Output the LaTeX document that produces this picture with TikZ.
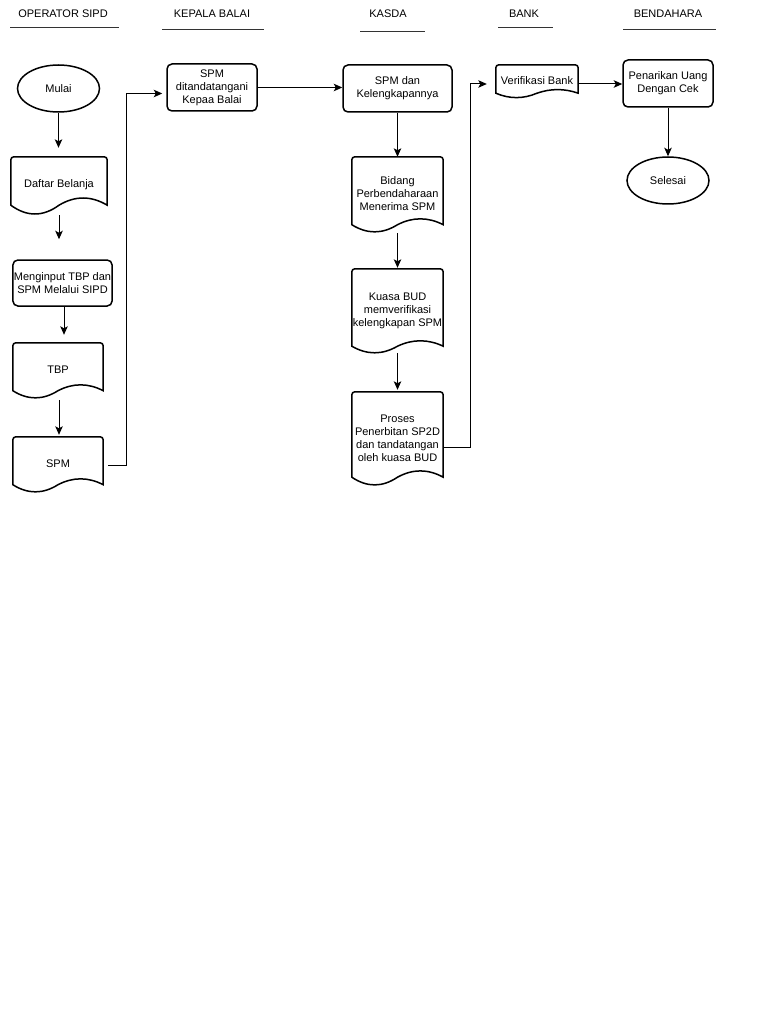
\documentclass[tikz,border=0pt]{standalone}
\usepackage{fontspec}
\setmainfont{Liberation Sans}
\usepackage{tikz}
\usetikzlibrary{positioning,shapes.geometric,arrows.meta,calc}
\tikzset{>={Stealth[length=8.5pt,width=7.5pt,inset=2pt]},
  every node/.style={font=\fontsize{11}{13}\selectfont, align=center, inner sep=1pt},
  lane/.style={draw=black!80, line width=0.9pt},
  box/.style={draw, line width=1.5pt, rounded corners=5pt},
  oval/.style={draw, ellipse, line width=1.5pt},
  doc/.style={inner sep=0pt},
  shapeline/.style={line width=1.5pt},
  flow/.style={->, line width=1pt}}
\newcommand{\docshape}[2]{%
  \draw[shapeline] let \p1=(#1.south west), \p2=(#1.north east), \n1={\x2-\x1} in
    (\x2,{\y1+0.5*#2}) [rounded corners=3pt] -- (\x2,\y2) -- (\x1,\y2) [sharp corners] -- (\x1,{\y1+0.5*#2})
    .. controls ({\x1+\n1/6},{\y1-0.2333*#2}) and ({\x1+\n1/3},{\y1-0.2333*#2}) .. ({\x1+0.5*\n1},{\y1+0.5*#2})
    .. controls ({\x1+2*\n1/3},{\y1+1.1*#2}) and ({\x2-\n1/6},{\y1+1.1*#2}) .. (\x2,{\y1+0.5*#2}) -- cycle;}

\begin{document}
\begin{tikzpicture}[x=1pt, y=-1pt]
  \useasboundingbox (0,0) rectangle (768,1024);

  \node (hoperator) at (63,14) {OPERATOR SIPD};
  \node (hkepala) at (212,14) {KEPALA BALAI};
  \node (hkasda) at (388,14) {KASDA};
  \node (hbank) at (524,14) {BANK};
  \node (hbendahara) at (668,14) {BENDAHARA};
  \draw[lane] (10,27) -- (119,27);
  \draw[lane] (162,29) -- (264,29);
  \draw[lane] (360,31) -- (425,31);
  \draw[lane] (498,27) -- (553,27);
  \draw[lane] (623,29) -- (716,29);

  \node (mulai) [oval, minimum width=82pt, minimum height=47pt] at (58.5,88.5) {Mulai};
  \node (daftar) [doc, minimum width=96pt, minimum height=56pt] at (59,185) {Daftar Belanja};
  \node (input) [box, minimum width=99pt, minimum height=46pt] at (62.5,283) {Menginput TBP dan\\SPM Melalui SIPD};
  \node (tbp) [doc, minimum width=90pt, minimum height=54pt] at (58,370) {TBP};
  \node (spm) [doc, minimum width=90pt, minimum height=54pt] at (58,464) {SPM};

  \node (kepala) [box, minimum width=90pt, minimum height=47pt] at (212,87.5) {SPM\\ditandatangani\\Kepaa Balai};

  \node (kelengkapan) [box, minimum width=109pt, minimum height=47pt] at (397.5,88.5) {SPM dan\\Kelengkapannya};
  \node (bidang) [doc, minimum width=91pt, minimum height=74pt] at (397.5,194) {Bidang\\Perbendaharaan\\Menerima SPM};
  \node (kuasa) [doc, minimum width=91pt, minimum height=83pt] at (397.5,310.5) {Kuasa BUD\\memverifikasi\\kelengkapan SPM};
  \node (proses) [doc, minimum width=91pt, minimum height=92pt] at (397.5,438) {Proses\\Penerbitan SP2D\\dan tandatangan\\oleh kuasa BUD};

  \node (verif) [doc, minimum width=82pt, minimum height=32pt] at (537,81) {Verifikasi Bank};

  \node (penarikan) [box, minimum width=90pt, minimum height=47pt] at (668,83.5) {Penarikan Uang\\Dengan Cek};
  \node (selesai) [oval, minimum width=82pt, minimum height=47pt] at (668,180.5) {Selesai};

  \docshape{daftar}{16}
  \docshape{tbp}{13}
  \docshape{spm}{13}
  \docshape{bidang}{13}
  \docshape{kuasa}{12}
  \docshape{proses}{14}
  \docshape{verif}{8}

  \draw[flow, shorten >=9pt] (mulai) -- (mulai |- daftar.north);
  \draw[flow, shorten <=2pt, shorten >=20pt] (daftar.south) -- (daftar.south |- input.north);
  \draw[flow, shorten >=8pt] (input.south) ++(1.5,0) -- ($(input.south |- tbp.north)+(1.5,0)$);
  \draw[flow, shorten <=3pt, shorten >=2pt] (tbp.south) ++(1,0) -- ($(tbp.south |- spm.north)+(1,0)$);
  \draw[flow, shorten <=5pt, shorten >=4pt] ([yshift=-1pt]spm.east) -- ++(23,0) |- ([yshift=-6pt]kepala.west);
  \draw[flow] (kepala.east) -- (kepala.east -| kelengkapan.west);
  \draw[flow] (kelengkapan) -- (bidang);
  \draw[flow, shorten <=2pt, shorten >=1pt] (bidang) -- (kuasa);
  \draw[flow, shorten <=1pt, shorten >=2pt] (kuasa) -- (proses);
  \draw[flow, shorten >=9pt] ([yshift=-9pt]proses.east) -- ++(27,0) |- ([yshift=-3pt]verif.west);
  \draw[flow] ([yshift=-3pt]verif.east) -- ([yshift=-3pt]verif.east -| penarikan.west);
  \draw[flow] (penarikan) -- (selesai);
\end{tikzpicture}
\end{document}
